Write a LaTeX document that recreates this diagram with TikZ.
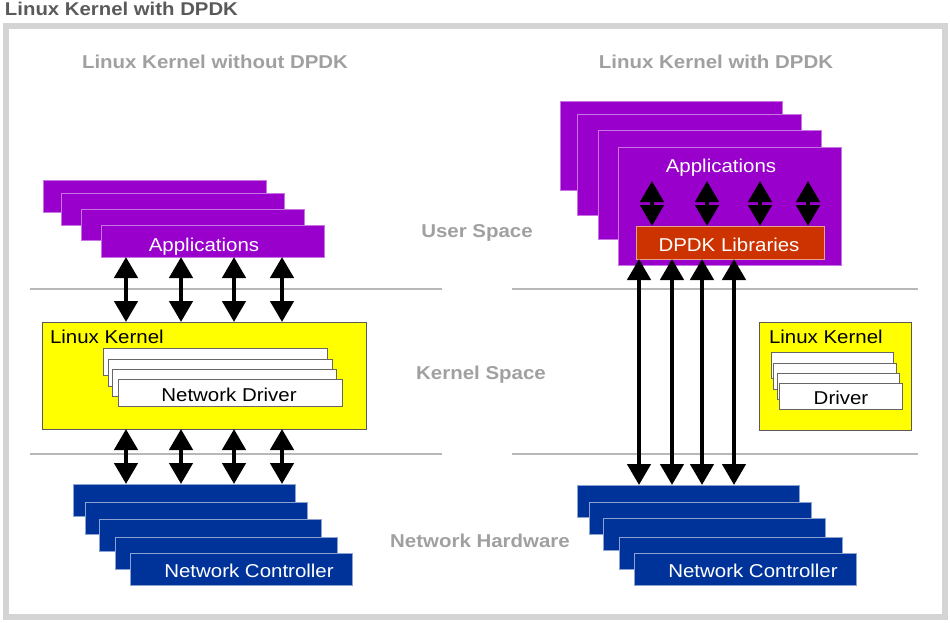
\documentclass[tikz,border=0pt]{standalone}
\usepackage{fontspec}
\setmainfont{Liberation Sans}[FakeStretch=1.1]
\usetikzlibrary{arrows.meta}
\definecolor{purp}{HTML}{9900CC}
\definecolor{nblue}{HTML}{003399}
\definecolor{dpdk}{HTML}{CC3300}
\definecolor{kyel}{HTML}{FFFF00}
\definecolor{headgray}{HTML}{A0A0A0}
\definecolor{titlegray}{HTML}{5A5A5A}
\definecolor{framegray}{HTML}{D4D4D4}
\definecolor{sepgray}{HTML}{B8B8B8}
\tikzset{
  box/.style={rectangle, anchor=north west, inner sep=0pt, outer sep=0pt},
  applayer/.style={box, fill=purp, draw=purp!55!white, line width=0.8pt},
  nclayer/.style={box, fill=nblue, draw=nblue!45!white, line width=0.8pt},
  drvlayer/.style={box, fill=white, draw=black!60, line width=0.8pt},
  kernelbox/.style={box, fill=kyel, draw=black!65, line width=0.8pt},
  dpdkbox/.style={box, fill=dpdk, draw=dpdk!45!white, line width=0.8pt},
  txt/.style={inner sep=0pt, outer sep=0pt, font=\fontsize{18.6}{20}\selectfont},
  headtxt/.style={txt, font=\fontsize{18.6}{20}\selectfont\bfseries, text=headgray},
  dbl/.style={line width=4.5pt, {Triangle[width=23pt,length=21pt]}-{Triangle[width=23pt,length=21pt]}},
  sep/.style={draw=sepgray, line width=2pt},
}
\begin{document}
\begin{tikzpicture}[x=1pt,y=-1pt]
\useasboundingbox (0,0) rectangle (950,622);
% frame
\node[box, draw=framegray, line width=6pt, minimum width=939pt, minimum height=591pt] (frame) at (6,26) {};
\node[txt, anchor=base west, font=\fontsize{18.5}{20}\selectfont\bfseries, text=titlegray] (title) at (5,15) {Linux Kernel with DPDK};
% headings
\node[headtxt, anchor=base] (hleft) at (215,68) {Linux Kernel without DPDK};
\node[headtxt, anchor=base] (hright) at (716,68) {Linux Kernel with DPDK};
\node[headtxt, anchor=base] (us) at (477,237) {User Space};
\node[headtxt, anchor=base] (ks) at (481,379) {Kernel Space};
\node[headtxt, anchor=base] (nh) at (480,547) {Network Hardware};
% separators
\coordinate (s1a) at (30,289); \coordinate (s1b) at (442,289);
\coordinate (s2a) at (512,289); \coordinate (s2b) at (918,289);
\coordinate (s3a) at (30,454); \coordinate (s3b) at (442,454);
\coordinate (s4a) at (512,454); \coordinate (s4b) at (918,454);
\draw[sep] (s1a) -- (s1b);
\draw[sep] (s2a) -- (s2b);
\draw[sep] (s3a) -- (s3b);
\draw[sep] (s4a) -- (s4b);

% ---------- left side ----------
\node[applayer, minimum width=223pt, minimum height=32pt] (la1) at (43,180) {};
\node[applayer, minimum width=223pt, minimum height=32pt] (la2) at (61,193) {};
\node[applayer, minimum width=223pt, minimum height=31pt] (la3) at (81,209) {};
\node[applayer, minimum width=223pt, minimum height=32pt] (la4) at (101,225) {};
\node[txt, anchor=base, text=white] (latxt) at (204,251) {Applications};

\node[kernelbox, minimum width=324pt, minimum height=107pt] (lk) at (42,322) {};
\node[txt, anchor=base west] (lktxt) at (50,343) {Linux Kernel};
\node[drvlayer, minimum width=224pt, minimum height=27pt] (ld1) at (103,348) {};
\node[drvlayer, minimum width=224pt, minimum height=27pt] (ld2) at (108,359) {};
\node[drvlayer, minimum width=224pt, minimum height=27pt] (ld3) at (112,369) {};
\node[drvlayer, minimum width=224pt, minimum height=27pt] (ld4) at (118,379) {};
\node[txt, anchor=base] (ldtxt) at (229,401) {Network Driver};

\node[nclayer, minimum width=222pt, minimum height=32pt] (ln1) at (73,484) {};
\node[nclayer, minimum width=222pt, minimum height=32pt] (ln2) at (85,502) {};
\node[nclayer, minimum width=222pt, minimum height=32pt] (ln3) at (99,519) {};
\node[nclayer, minimum width=222pt, minimum height=32pt] (ln4) at (115,537) {};
\node[nclayer, minimum width=222pt, minimum height=32pt] (ln5) at (130,553) {};
\node[txt, anchor=base, text=white] (lntxt) at (249,577) {Network Controller};

\foreach \i/\xx in {1/126,2/181,3/234,4/282}{
  \coordinate (lc\i) at (\xx,0);
  \draw[dbl] (la4.south -| lc\i) -- (lk.north -| lc\i);
  \draw[dbl] (lk.south -| lc\i) -- (ln1.north -| lc\i);
}

% ---------- right side ----------
\node[applayer, minimum width=222pt, minimum height=89pt] (ra1) at (560,101) {};
\node[applayer, minimum width=224pt, minimum height=101pt] (ra2) at (577,114) {};
\node[applayer, minimum width=223pt, minimum height=109pt] (ra3) at (598,130) {};
\node[applayer, minimum width=223pt, minimum height=118pt] (ra4) at (618,147) {};
\node[txt, anchor=base, text=white] (ratxt) at (721,172) {Applications};
\node[dpdkbox, minimum width=188pt, minimum height=33pt] (dp) at (636,226) {};
\node[txt, anchor=base, text=white] (dptxt) at (729,251) {DPDK Libraries};

\node[kernelbox, minimum width=152pt, minimum height=108pt] (rk) at (759,322) {};
\node[txt, anchor=base west] (rktxt) at (769,343) {Linux Kernel};
\node[drvlayer, minimum width=122pt, minimum height=26pt] (rd1) at (771,352) {};
\node[drvlayer, minimum width=123pt, minimum height=26pt] (rd2) at (773,363) {};
\node[drvlayer, minimum width=122pt, minimum height=26pt] (rd3) at (777,373) {};
\node[drvlayer, minimum width=123pt, minimum height=26pt] (rd4) at (779,383) {};
\node[txt, anchor=base] (rdtxt) at (841,404) {Driver};

\node[nclayer, minimum width=222pt, minimum height=32pt] (rn1) at (577,485) {};
\node[nclayer, minimum width=222pt, minimum height=32pt] (rn2) at (589,502) {};
\node[nclayer, minimum width=222pt, minimum height=32pt] (rn3) at (603,518) {};
\node[nclayer, minimum width=223pt, minimum height=32pt] (rn4) at (619,537) {};
\node[nclayer, minimum width=222pt, minimum height=32pt] (rn5) at (634,553) {};
\node[txt, anchor=base, text=white] (rntxt) at (753,577) {Network Controller};

\foreach \i/\xx in {1/652,2/707,3/760,4/808}{
  \coordinate (rt\i) at (\xx,181);
  \draw[dbl] (rt\i) -- (dp.north -| rt\i);
}
\foreach \i/\xx in {1/639,2/672,3/702,4/734}{
  \coordinate (rc\i) at (\xx,0);
  \draw[dbl] (dp.south -| rc\i) -- (rn1.north -| rc\i);
}
\end{tikzpicture}
\end{document}
